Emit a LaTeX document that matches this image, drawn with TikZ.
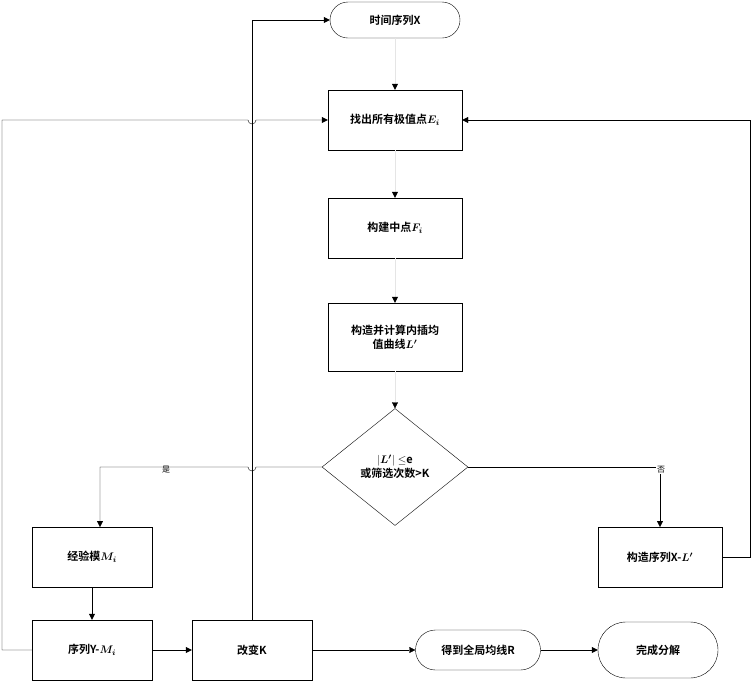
\documentclass[tikz,border=0pt]{standalone}
\usepackage{amsmath}
\usepackage{bm}
\usepackage{fontspec}
\setmainfont{Liberation Serif}
\newfontfamily\cjk{Noto Sans CJK SC Bold}
\newfontfamily\cjkl{Noto Sans CJK SC}
\usetikzlibrary{shapes.geometric,arrows.meta}
\begin{document}
\begin{tikzpicture}[x=1pt,y=-1pt,
  box/.style={draw,thin,minimum width=134pt,minimum height=60pt,font=\cjk\fontsize{11}{14}\selectfont,align=center},
  sbox/.style={draw,thin,minimum width=120pt,minimum height=60pt,font=\cjk\fontsize{11}{14}\selectfont,align=center},
  term/.style={draw,thin,rounded corners=18pt,font=\cjk\fontsize{11}{14}\selectfont},
  ar/.style={-{Triangle[length=6pt,width=6pt]},thin},
  ghost/.style={draw=black!10,-{Triangle[length=6pt,width=6pt,black]}}]
\useasboundingbox (0,0) rectangle (753,681);
\node[term,minimum width=130pt,minimum height=36pt] (s) at (395,20) {时间序列X};
\node[box] (e) at (395,120) {找出所有极值点$\bm{E_i}$};
\node[box] (f) at (395,228) {构建中点$\bm{F_i}$};
\node[box,minimum height=68pt] (l) at (395,337) {构造并计算内插均\\值曲线$\bm{L'}$};
\node[diamond,draw,thin,minimum width=146pt,minimum height=117pt,inner sep=0pt,align=center,font=\cjk\fontsize{11}{14}\selectfont] (d) at (395,467) {$|\bm{L'}|\leq$e\\或筛选次数>K};
\node[sbox] (m) at (92,557) {经验模$\bm{M_i}$};
\node[sbox,minimum width=124pt] (x) at (660,557) {构造序列X-$\bm{L'}$};
\node[sbox] (y) at (92,650) {序列Y-$\bm{M_i}$};
\node[sbox] (k) at (252,650) {改变K};
\node[term,minimum width=125pt,minimum height=40pt,rounded corners=20pt] (r) at (478,650) {得到全局均线R};
\node[term,minimum width=120pt,minimum height=56pt,rounded corners=28pt] (c) at (658,650) {完成分解};
\coordinate (mt) at (100,527);
\coordinate (xt) at (660,527);
\draw[ghost] (s) -- (e);
\draw[ghost] (e) -- (f);
\draw[ghost] (f) -- (l);
\draw[ghost] (l) -- (d);
\draw[ar] (d.west) -- (256,467) arc[start angle=0,end angle=180,radius=4] -- (100,467) -- (mt);
\node[font=\cjkl\fontsize{8}{9}\selectfont] at (166,470) {是};
\draw[ar] (d.east) -- (660,467) -- (xt);
\node[font=\cjkl\fontsize{8}{9}\selectfont,fill=white,inner sep=1pt] at (661,470) {否};
\draw[ar] (x.east) -- (750,557) -- (750,120) -- (e.east);
\draw[ar] (m) -- (y);
\draw[ar] (y.west) -- (2,650) -- (2,120) -- (248,120) arc[start angle=180,end angle=0,radius=4] -- (e.west);
\draw[ar] (y) -- (k);
\draw[ar] (k.north) -- (252,20) -- (s.west);
\draw[ar] (k) -- (r);
\draw[ar] (r) -- (c);
\end{tikzpicture}
\end{document}
